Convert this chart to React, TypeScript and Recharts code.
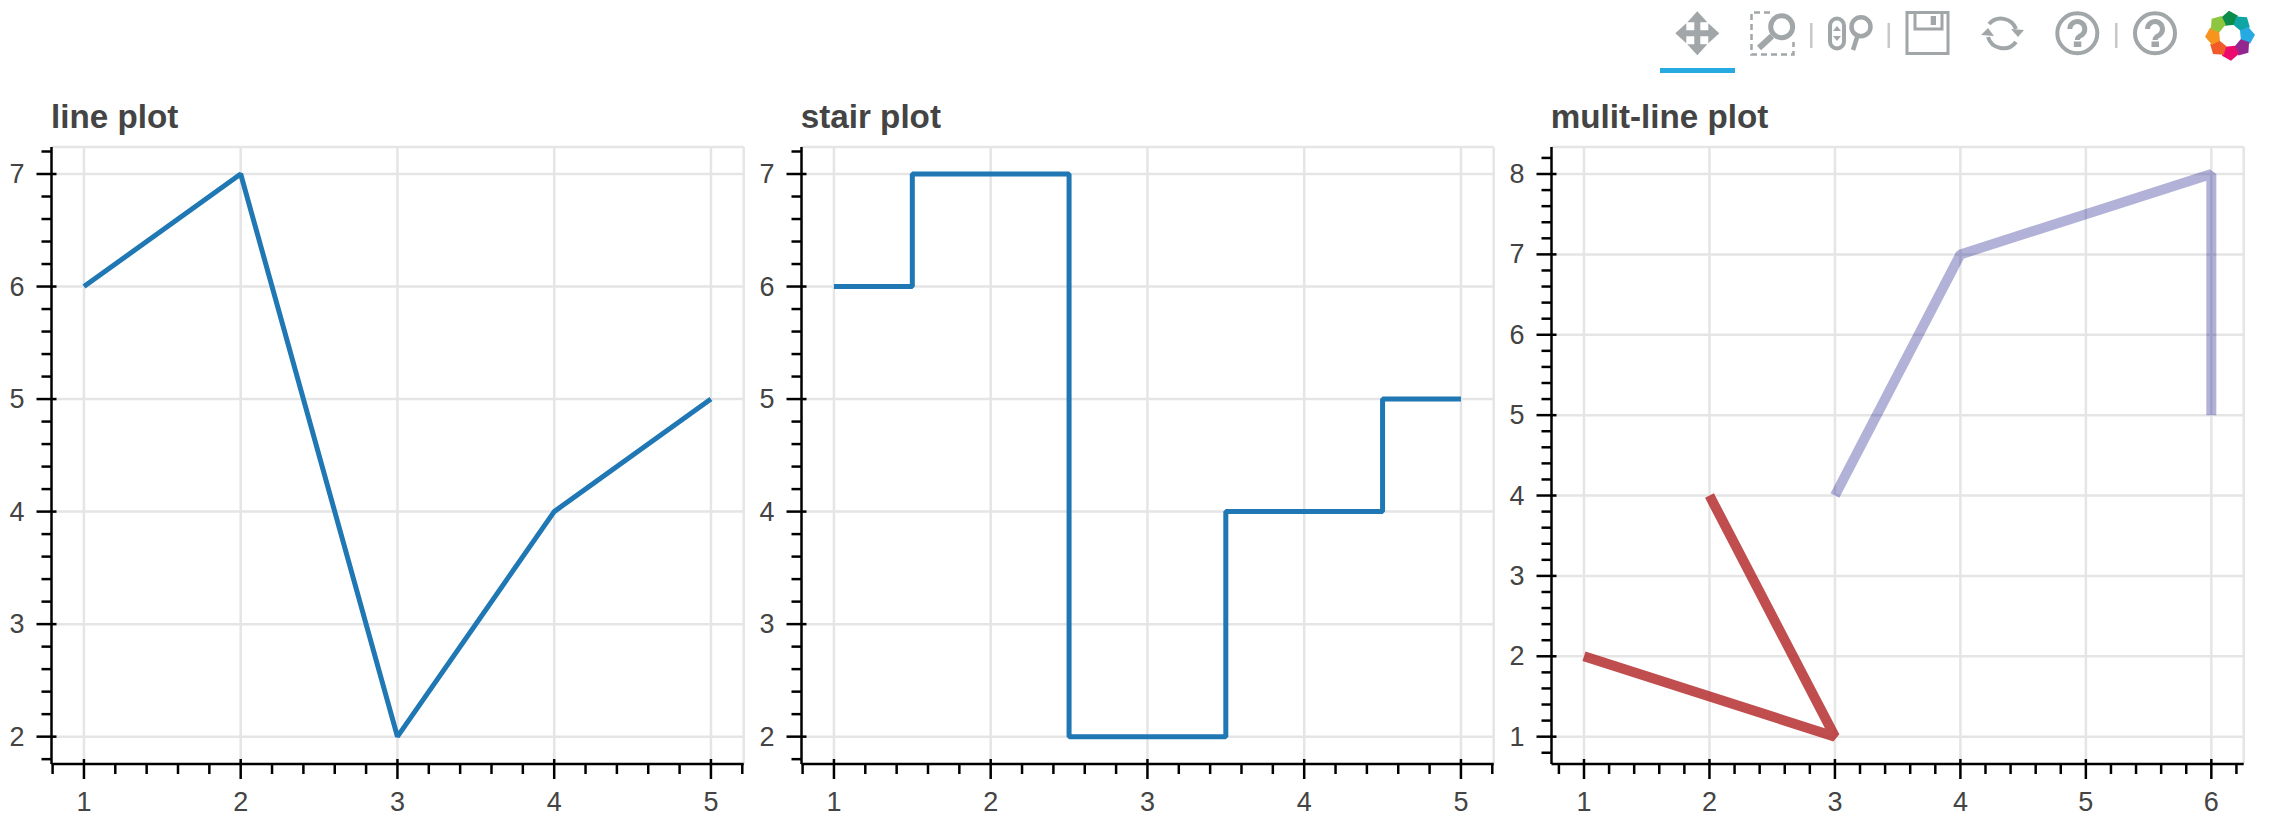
import { CartesianGrid, Line, LineChart, XAxis, YAxis } from "recharts";

const lineX = [1, 2, 3, 4, 5];
const lineY = [6, 7, 2, 4, 5];
const redX = [1, 3, 2];
const redY = [2, 1, 4];
const purpleX = [3, 4, 6, 6];
const purpleY = [4, 7, 8, 5];

const singleXLabels = [1, 2, 3, 4, 5];
const singleYLabels = [2, 3, 4, 5, 6, 7];
const multiXLabels = [1, 2, 3, 4, 5, 6];
const multiYLabels = [1, 2, 3, 4, 5, 6, 7, 8];

const singleXDomain = [0.793, 5.209];
const singleYDomain = [1.757, 7.24];
const multiXDomain = [0.741, 6.258];
const multiYDomain = [0.66, 8.336];

const FONT = '"Liberation Sans", Arial, sans-serif';
const TEXT = "#444444";
const GRID = "#e5e5e5";
const ICON = "#a1a6a9";
const SEP = "#c8c8c8";

const zip = (xs: number[], ys: number[]) => xs.map((x, i) => ({ x, y: ys[i] }));

// bokeh puts 4 minor ticks between majors, and they carry on past the last major
function withMinors(labels: number[]) {
  const out: number[] = [labels[0] - 0.2];
  labels.forEach((v, i) => {
    out.push(v);
    if (i < labels.length - 1) [0.2, 0.4, 0.6, 0.8].forEach((d) => out.push(Math.round((v + d) * 10) / 10));
  });
  out.push(Math.round((labels[labels.length - 1] + 0.2) * 10) / 10);
  return out;
}

function XTick({ x, y, payload, labels }: any) {
  const major = labels.includes(payload.value);
  return (
    <g>
      <line x1={x} x2={x} y1={major ? y - 5 : y} y2={major ? y + 15 : y + 10} stroke="#000" strokeWidth={2.5} />
      {major && (
        <text x={x} y={y + 47} textAnchor="middle" fontSize={27} fontFamily={FONT} fill={TEXT}>
          {payload.value}
        </text>
      )}
    </g>
  );
}

function YTick({ x, y, payload, labels }: any) {
  const major = labels.includes(payload.value);
  return (
    <g>
      <line x1={major ? x + 5 : x} x2={major ? x - 15 : x - 10} y1={y} y2={y} stroke="#000" strokeWidth={2.5} />
      {major && (
        <text x={x - 27} y={y + 9} textAnchor="end" fontSize={27} fontFamily={FONT} fill={TEXT}>
          {payload.value}
        </text>
      )}
    </g>
  );
}

function Panel({ left, title, xLabels, yLabels, xDomain, yDomain, children }: any) {
  return (
    <div style={{ position: "absolute", left, top: 0, width: 760, height: 821 }}>
      <div
        style={{
          position: "absolute",
          left: 51,
          top: 100,
          fontFamily: FONT,
          fontWeight: "bold",
          fontSize: 33.2,
          lineHeight: 1,
          color: TEXT,
          whiteSpace: "nowrap",
        }}
      >
        {title}
      </div>
      <LineChart width={760} height={821} margin={{ top: 147, right: 16.3, bottom: 7, left: 0 }}>
        <CartesianGrid
          stroke={GRID}
          strokeWidth={2.5}
          verticalValues={[...xLabels, xDomain[1]]}
          horizontalValues={[...yLabels, yDomain[1]]}
        />
        <XAxis
          dataKey="x"
          type="number"
          domain={xDomain}
          ticks={withMinors(xLabels)}
          interval={0}
          height={50}
          tickSize={0}
          tickMargin={0}
          tickLine={false}
          axisLine={{ stroke: "#000", strokeWidth: 2.5 }}
          tick={<XTick labels={xLabels} />}
        />
        <YAxis
          dataKey="y"
          type="number"
          domain={yDomain}
          ticks={withMinors(yLabels)}
          interval={0}
          width={51.5}
          tickSize={0}
          tickMargin={0}
          tickLine={false}
          axisLine={{ stroke: "#000", strokeWidth: 2.5 }}
          tick={<YTick labels={yLabels} />}
        />
        {children}
      </LineChart>
    </div>
  );
}

const logoColors = ["#0c8c4a", "#10a5a5", "#27aae1", "#92278f", "#ec0a6e", "#f15a29", "#f7941d", "#8dc63f"];

function Toolbar() {
  return (
    <svg width={2279} height={80} style={{ position: "absolute", left: 0, top: 0 }}>
      {/* pan */}
      <path
        transform="translate(1697.3 33.3)"
        fill={ICON}
        d="M0-22 L10-11 H3 V-3 H11 V-10 L22 0 L11 10 V3 H3 V11 H10 L0 22 L-10 11 H-3 V3 H-11 V10 L-22 0 L-11-10 V-3 H-3 V-11 H-10 Z"
      />
      <rect x={1660} y={68} width={75} height={5} fill="#26aae1" />
      {/* box zoom */}
      <path d="M1770 12.5 H1751.5 V54.5 H1793.5 V42" fill="none" stroke={ICON} strokeWidth={2.5} strokeDasharray="6 4" />
      <circle cx={1781.7} cy={26.7} r={11} fill="none" stroke={ICON} strokeWidth={5} />
      <line x1={1772} y1={36} x2={1759} y2={48} stroke={ICON} strokeWidth={6} />
      <rect x={1810} y={23} width={2.5} height={25} fill={SEP} />
      {/* wheel zoom */}
      <rect x={1830} y={18.5} width={14} height={30} rx={7} fill="none" stroke={ICON} strokeWidth={4} />
      <path d="M1837 26 L1841 31 H1833 Z M1837 41 L1841 36 H1833 Z" fill={ICON} />
      <circle cx={1861} cy={26.7} r={9.5} fill="none" stroke={ICON} strokeWidth={4.5} />
      <line x1={1857.5} y1={36} x2={1853} y2={50} stroke={ICON} strokeWidth={4.5} />
      <rect x={1887.5} y={23} width={2.5} height={25} fill={SEP} />
      {/* save */}
      <rect x={1907} y={12.5} width={41} height={41} fill="none" stroke={ICON} strokeWidth={3} />
      <path d="M1915 12 V29 H1942 V12" fill="none" stroke={ICON} strokeWidth={3} />
      <rect x={1930.7} y={16} width={5.3} height={9} fill={ICON} />
      {/* reset */}
      <path d="M1989 24 A16 16 0 0 1 2016 29" fill="none" stroke={ICON} strokeWidth={4} />
      <path d="M1988 37 A16 16 0 0 0 2016 42" fill="none" stroke={ICON} strokeWidth={4} />
      <path d="M2024 30 L2018 37 L2011 29 Z M1981 35 L1988 28 L1994 36 Z" fill={ICON} />
      {/* help, twice */}
      {[2077.3, 2155].map((cx) => (
        <g key={cx} transform={`translate(${cx} 0)`}>
          <circle cx={0} cy={33.3} r={20} fill="none" stroke={ICON} strokeWidth={4} />
          <path d="M-7.5 29 A7.5 7.5 0 1 1 4.5 35 Q0 37 0 40" fill="none" stroke={ICON} strokeWidth={5} />
          <rect x={-3.5} y={41.5} width={7.5} height={5.5} fill={ICON} />
        </g>
      ))}
      <rect x={2115} y={23} width={2.5} height={25} fill={SEP} />
      {/* logo */}
      {logoColors.map((c, i) => (
        <path
          key={c}
          transform={`translate(2230 35.7) rotate(${i * 45})`}
          d="M-9-18 L-1-25 L8-20 L5-11 L-5-10 Z"
          fill={c}
        />
      ))}
    </svg>
  );
}

export default function App() {
  return (
    <div style={{ position: "absolute", left: 0, top: 0, width: 2279, height: 821, background: "#fff", overflow: "hidden" }}>
      <Toolbar />
      <Panel left={0} title="line plot" xLabels={singleXLabels} yLabels={singleYLabels} xDomain={singleXDomain} yDomain={singleYDomain}>
        <Line data={zip(lineX, lineY)} dataKey="y" type="linear" stroke="#1f77b4" strokeWidth={5} strokeLinejoin="bevel" dot={false} activeDot={false} isAnimationActive={false} />
      </Panel>
      <Panel left={749.8} title="stair plot" xLabels={singleXLabels} yLabels={singleYLabels} xDomain={singleXDomain} yDomain={singleYDomain}>
        <Line data={zip(lineX, lineY)} dataKey="y" type="step" stroke="#1f77b4" strokeWidth={5} strokeLinejoin="bevel" dot={false} activeDot={false} isAnimationActive={false} />
      </Panel>
      <Panel left={1499.8} title="mulit-line plot" xLabels={multiXLabels} yLabels={multiYLabels} xDomain={multiXDomain} yDomain={multiYDomain}>
        <Line data={zip(redX, redY)} dataKey="y" type="linear" stroke="firebrick" strokeOpacity={0.8} strokeWidth={10} strokeLinejoin="bevel" dot={false} activeDot={false} isAnimationActive={false} />
        <Line data={zip(purpleX, purpleY)} dataKey="y" type="linear" stroke="navy" strokeOpacity={0.3} strokeWidth={10} strokeLinejoin="bevel" dot={false} activeDot={false} isAnimationActive={false} />
      </Panel>
    </div>
  );
}
